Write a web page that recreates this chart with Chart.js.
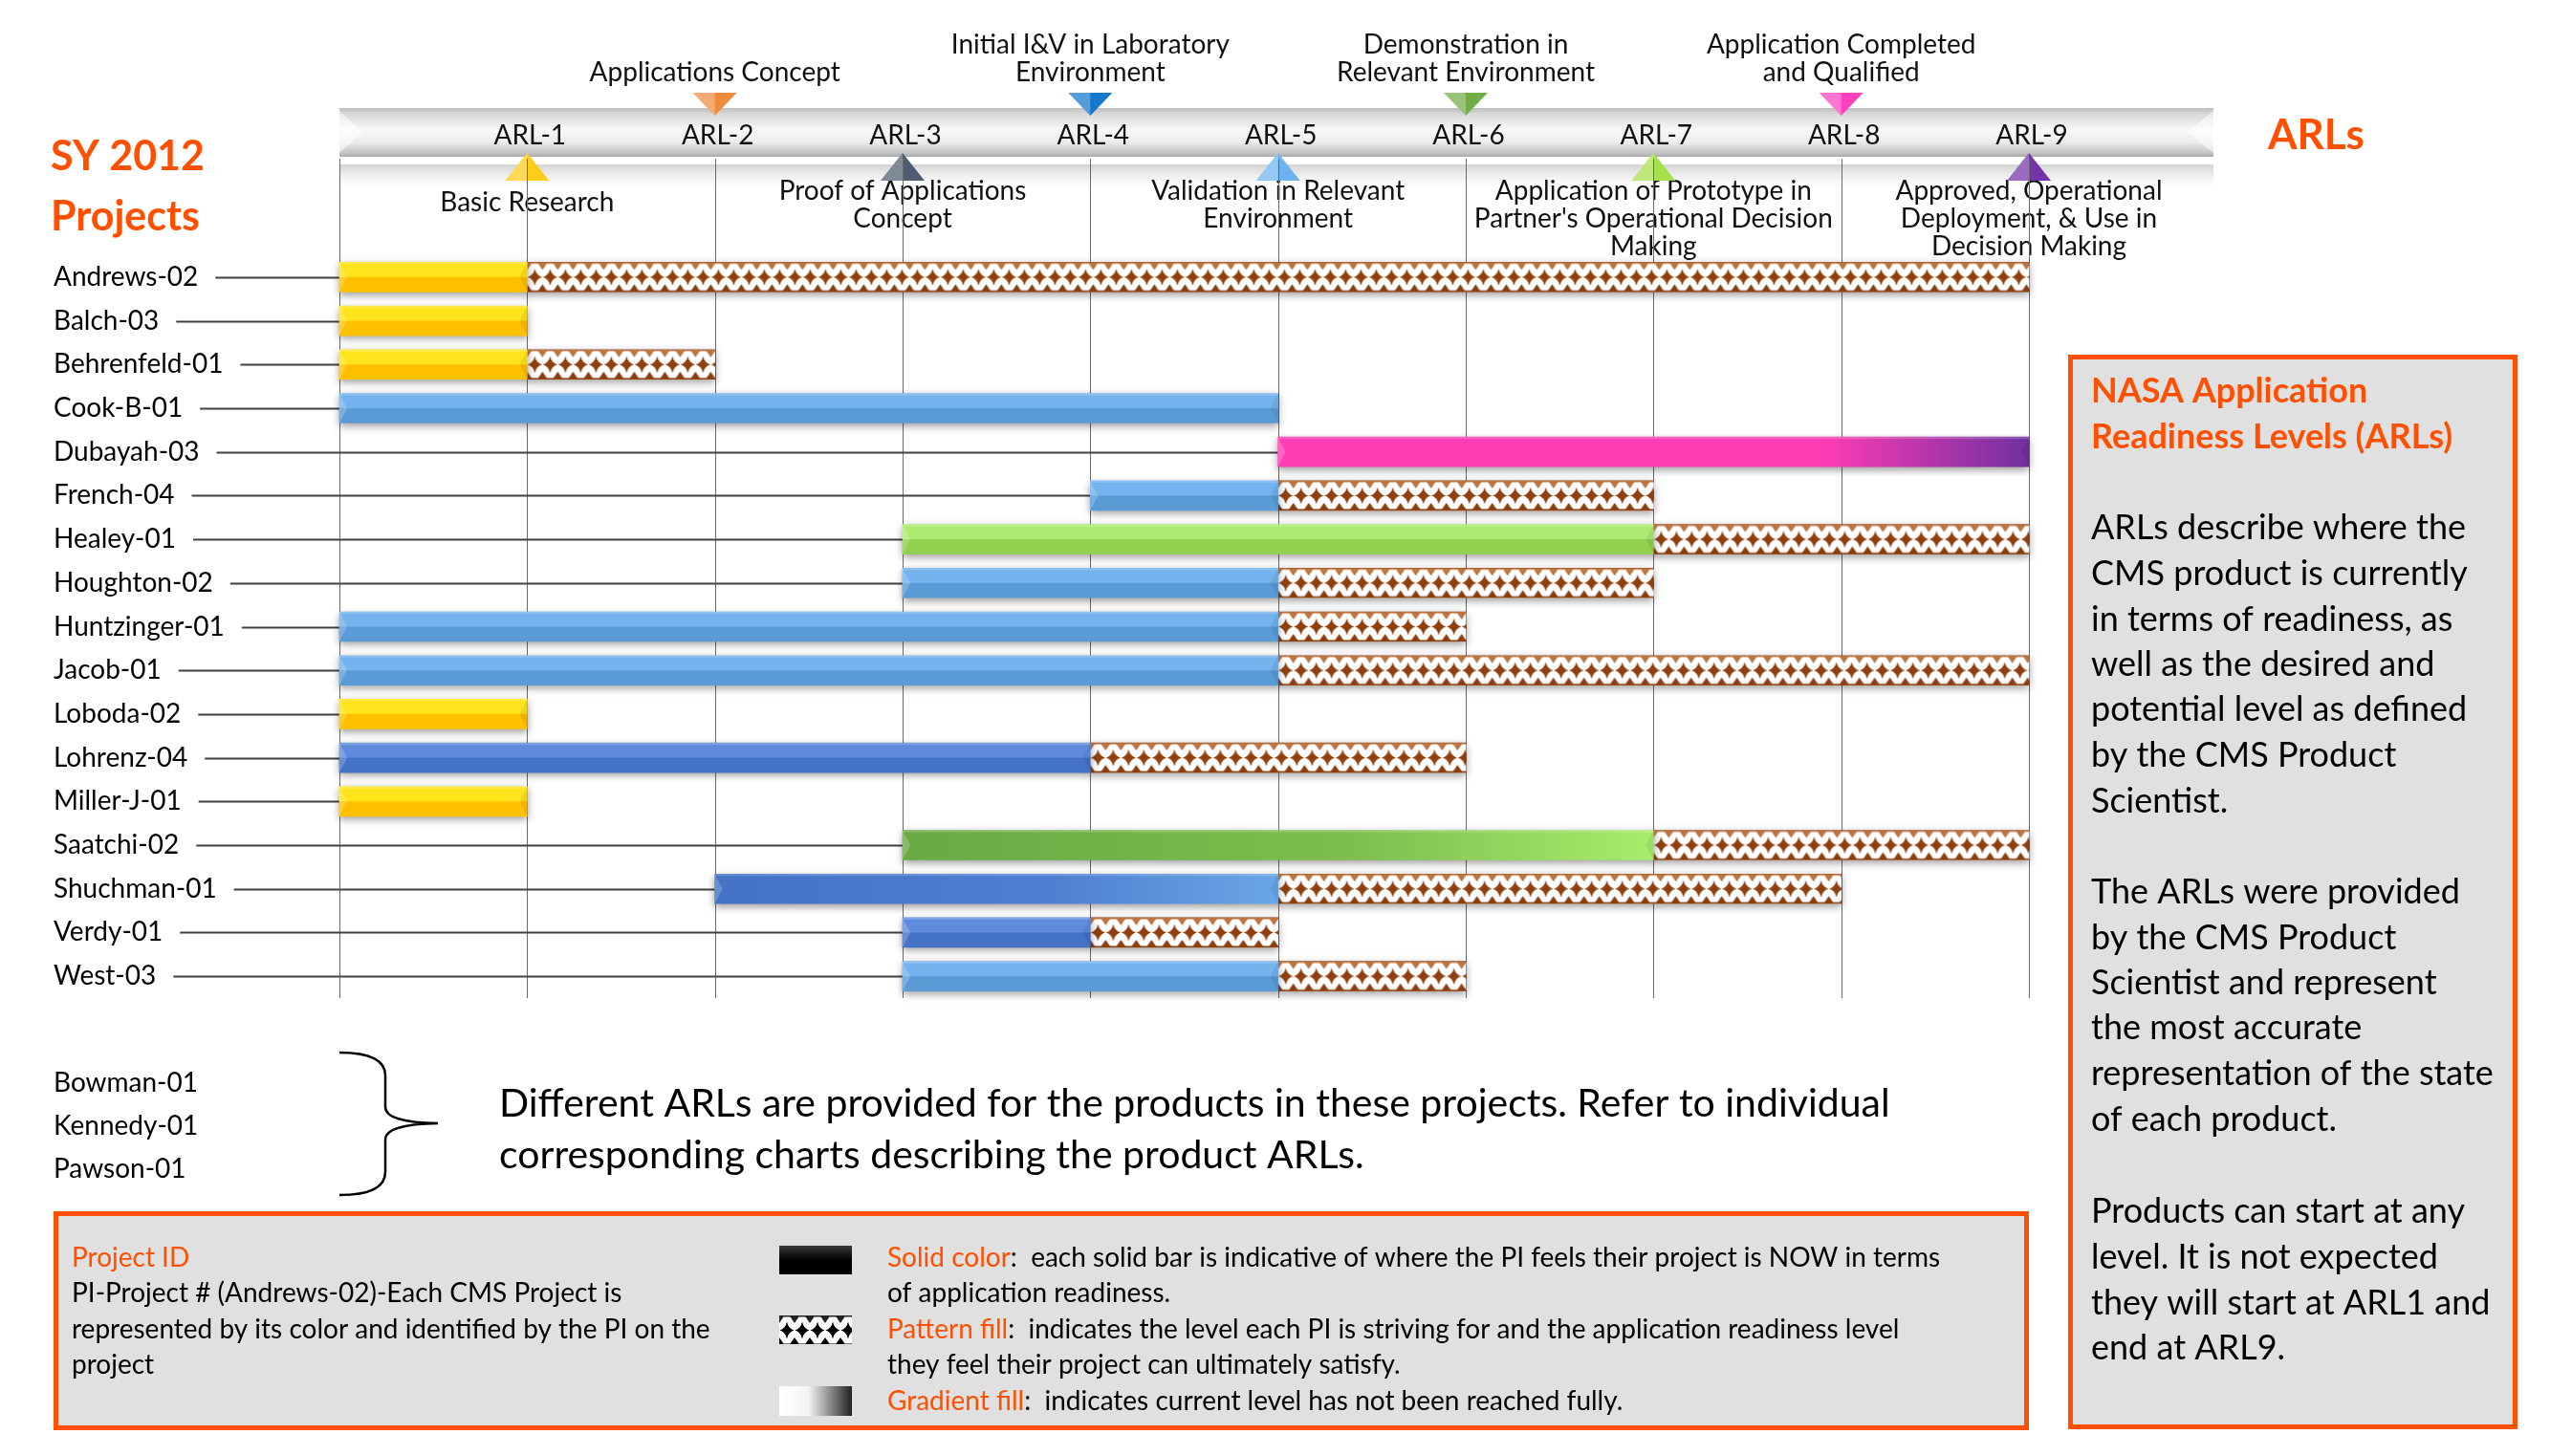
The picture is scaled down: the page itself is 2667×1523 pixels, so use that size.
<!DOCTYPE html>
<html>
<head>
<meta charset="utf-8">
<script src="https://cdn.jsdelivr.net/npm/chart.js@4.4.1/dist/chart.umd.min.js"></script>
<style>
  html, body { margin: 0; background: #fff; }
  canvas { display: block; }
</style>
</head>
<body>
<canvas id="arlChart" width="2667" height="1523"></canvas>
<script>
/* -------------------------------------------------------
   DATA
------------------------------------------------------- */

const projects = [
  "Andrews-02", "Balch-03", "Behrenfeld-01", "Cook-B-01", "Dubayah-03",
  "French-04", "Healey-01", "Houghton-02", "Huntzinger-01", "Jacob-01",
  "Loboda-02", "Lohrenz-04", "Miller-J-01", "Saatchi-02", "Shuchman-01",
  "Verdy-01", "West-03"
];

// where the solid bar starts / ends (current ARL)
const solidStart = [0, 0, 0, 0, 5, 4, 3, 3, 0, 0, 0, 0, 0, 3, 2, 3, 3];
const solidEnd   = [1, 1, 1, 5, 9, 5, 7, 5, 5, 5, 1, 4, 1, 7, 5, 4, 5];
// where the patterned (target) bar ends, null = no target shown
const targetEnd  = [9, null, 2, null, null, 7, 9, 7, 6, 9, null, 6, null, 9, 8, 5, 6];

// colour family of each project bar
const barStyle = [
  "yellow", "yellow", "yellow", "sky", "pinkFade",
  "sky", "lime", "sky", "sky", "sky",
  "yellow", "navy", "yellow", "greenFade", "navyFade",
  "navy", "sky"
];

const arlLevels = [1, 2, 3, 4, 5, 6, 7, 8, 9];
const arlLabels = ["ARL-1", "ARL-2", "ARL-3", "ARL-4", "ARL-5", "ARL-6", "ARL-7", "ARL-8", "ARL-9"];
const arlNotes = [
  ["Basic Research"],
  ["Applications Concept"],
  ["Proof of Applications", "Concept"],
  ["Initial I&V in Laboratory", "Environment"],
  ["Validation in Relevant", "Environment"],
  ["Demonstration in", "Relevant Environment"],
  ["Application of Prototype in", "Partner's Operational Decision", "Making"],
  ["Application Completed", "and Qualified"],
  ["Approved, Operational", "Deployment, & Use in", "Decision Making"]
];
const arlMarkerColors = ["#FFCC1A", "#F08A3C", "#4E5D72", "#1478CC", "#6DB3EE", "#6FAE45", "#A6E04A", "#FF40BE", "#7433A8"];

const otherProjects = ["Bowman-01", "Kennedy-01", "Pawson-01"];

/* -------------------------------------------------------
   STYLE HELPERS
------------------------------------------------------- */

const FONT = 'Lato, "Open Sans", sans-serif';
const ORANGE = "#FF4F00";
const BAR_H = 31;

const palette = {
  yellow:    { top: "#FFE41C", base: "#FFC000" },
  sky:       { top: "#74B3EE", base: "#5B9BD5" },
  navy:      { top: "#5F8BDD", base: "#4472C4" },
  lime:      { top: "#AEEB72", base: "#92D050" },
  pinkFade:  { h: [[0, "#FF3DB4"], [0.72, "#FF3DB4"], [1, "#7030A0"]] },
  greenFade: { h: [[0, "#69A944"], [0.6, "#7DBE4E"], [1, "#A8EC6C"]] },
  navyFade:  { h: [[0, "#4472C4"], [0.6, "#4F7FD0"], [1, "#6AA6E6"]] }
};

function makeDiamondTile(topCol, midCol, botCol) {
  const c = document.createElement("canvas");
  c.width = 16; c.height = BAR_H;
  const g = c.getContext("2d");
  const m = BAR_H / 2;
  g.fillStyle = "#fff";
  g.fillRect(0, 0, 16, BAR_H);
  // middle diamond, slightly concave sides
  g.fillStyle = midCol;
  g.beginPath();
  g.moveTo(8, m - 9);
  g.quadraticCurveTo(9.3, m - 2, 15.6, m);
  g.quadraticCurveTo(9.3, m + 2, 8, m + 9);
  g.quadraticCurveTo(6.7, m + 2, 0.4, m);
  g.quadraticCurveTo(6.7, m - 2, 8, m - 9);
  g.fill();
  // half diamonds along the edges
  [0, 16].forEach(cx => {
    g.fillStyle = topCol;
    g.beginPath();
    g.moveTo(cx - 5.5, 0); g.lineTo(cx + 5.5, 0); g.lineTo(cx, 8);
    g.fill();
    g.fillStyle = botCol;
    g.beginPath();
    g.moveTo(cx - 5.5, BAR_H); g.lineTo(cx + 5.5, BAR_H); g.lineTo(cx, BAR_H - 8);
    g.fill();
  });
  // thin edge tint
  g.fillStyle = topCol;
  g.fillRect(0, 0, 16, 1.5);
  g.fillStyle = botCol;
  g.fillRect(0, BAR_H - 1.5, 16, 1.5);
  return c;
}

const brownTile = makeDiamondTile("#BD7440", "#8F400E", "#8A3F10");
const blackTile = makeDiamondTile("#222", "#000", "#000");

function patternFill(c) {
  const chart = c.chart;
  if (!chart.chartArea) return "#A0522D";
  const i = c.dataIndex;
  const yTop = chart.scales.y.getPixelForValue(i) - BAR_H / 2;
  const x0 = chart.scales.x.getPixelForValue(solidEnd[i]);
  const p = chart.ctx.createPattern(brownTile, "repeat");
  p.setTransform(new DOMMatrix([1, 0, 0, 1, x0, yTop]));
  return p;
}

function solidFill(c) {
  const chart = c.chart;
  const i = c.dataIndex;
  const st = palette[barStyle[i]];
  if (!chart.chartArea) return st.base || st.h[0][1];
  const ctx = chart.ctx;
  if (st.h) {
    const x0 = chart.scales.x.getPixelForValue(solidStart[i]);
    const x1 = chart.scales.x.getPixelForValue(solidEnd[i]);
    const g = ctx.createLinearGradient(x0, 0, x1, 0);
    st.h.forEach(s => g.addColorStop(s[0], s[1]));
    return g;
  }
  const yc = chart.scales.y.getPixelForValue(i);
  const g = ctx.createLinearGradient(0, yc - BAR_H / 2, 0, yc + BAR_H / 2);
  g.addColorStop(0, st.top);
  g.addColorStop(0.48, st.top);
  g.addColorStop(0.52, st.base);
  g.addColorStop(1, st.base);
  return g;
}

function txt(ctx, s, x, y, size, color, opts = {}) {
  ctx.font = (opts.bold ? "bold " : "") + size + "px " + FONT;
  ctx.fillStyle = color;
  ctx.textAlign = opts.align || "left";
  ctx.textBaseline = "middle";
  ctx.fillText(s, x, y);
  return ctx.measureText(s).width;
}

/* -------------------------------------------------------
   DECORATION PLUGIN (header, milestones, boxes, leaders)
------------------------------------------------------- */

const arlDecor = {
  id: "arlDecor",

  beforeDraw(chart) {
    const ctx = chart.ctx;
    const xs = chart.scales.x;
    ctx.save();
    ctx.fillStyle = "#fff";
    ctx.fillRect(0, 0, chart.width, chart.height);

    // glossy header tube
    const hx0 = xs.getPixelForValue(0), hx1 = 2315;
    let g = ctx.createLinearGradient(0, 113, 0, 164);
    g.addColorStop(0, "#BEBEBE");
    g.addColorStop(0.12, "#D8D8D8");
    g.addColorStop(0.45, "#F8F8F8");
    g.addColorStop(0.7, "#ECECEC");
    g.addColorStop(0.92, "#C4C4C4");
    g.addColorStop(1, "#A9A9A9");
    ctx.fillStyle = g;
    ctx.fillRect(hx0, 113, hx1 - hx0, 51);
    ctx.fillStyle = "rgba(255,255,255,0.55)";
    ctx.beginPath();
    ctx.moveTo(hx0, 116); ctx.lineTo(hx0 + 24, 138); ctx.lineTo(hx0, 160); ctx.fill();
    ctx.beginPath();
    ctx.moveTo(hx1, 116); ctx.lineTo(hx1 - 28, 138); ctx.lineTo(hx1, 160); ctx.fill();
    // reflection under the tube
    g = ctx.createLinearGradient(0, 172, 0, 202);
    g.addColorStop(0, "#D2D2D2");
    g.addColorStop(1, "rgba(255,255,255,0)");
    ctx.fillStyle = g;
    ctx.fillRect(hx0, 172, hx1 - hx0, 30);

    // milestone notes and level labels
    arlLevels.forEach((lv, k) => {
      const x = xs.getPixelForValue(lv);
      const down = lv % 2 === 0;
      const lines = arlNotes[k];
      if (down) {
        lines.forEach((s, j) => txt(ctx, s, x, 76 - (lines.length - 1 - j) * 29, 28, "#111", { align: "center" }));
      } else {
        const y0 = lines.length === 1 ? 212 : 200;
        lines.forEach((s, j) => txt(ctx, s, x, y0 + j * 29, 28, "#111", { align: "center" }));
      }
      txt(ctx, arlLabels[k], x + 3, 142, 28, "#111", { align: "center" });

      // marker triangle
      const w = 23;
      const yb = down ? 97 : 189, yt = down ? 121 : 160;
      ctx.fillStyle = arlMarkerColors[k];
      ctx.beginPath();
      ctx.moveTo(x - w, yb); ctx.lineTo(x + w, yb); ctx.lineTo(x, yt); ctx.closePath();
      ctx.fill();
      ctx.fillStyle = "rgba(255,255,255,0.28)";
      ctx.beginPath();
      ctx.moveTo(x - w, yb); ctx.lineTo(x, yb); ctx.lineTo(x, yt); ctx.closePath();
      ctx.fill();
    });

    // side titles
    txt(ctx, "SY 2012", 53, 164, 43, ORANGE, { bold: true });
    txt(ctx, "Projects", 53, 227, 43, ORANGE, { bold: true });
    txt(ctx, "ARLs", 2372, 142, 44, ORANGE, { bold: true });

    // right explanation box
    ctx.fillStyle = "#E0E0E0";
    ctx.fillRect(2163, 371, 470, 1124);
    ctx.strokeStyle = ORANGE;
    ctx.lineWidth = 5;
    ctx.strokeRect(2165.5, 373.5, 465, 1119);
    txt(ctx, "NASA Application", 2187, 409, 36, ORANGE, { bold: true });
    txt(ctx, "Readiness Levels (ARLs)", 2187, 457, 36, ORANGE, { bold: true });
    const side = [
      ["ARLs describe where the", 552], ["CMS product is currently", 600],
      ["in terms of readiness, as", 648], ["well as the desired and", 695],
      ["potential level as defined", 742], ["by the CMS Product", 790], ["Scientist.", 838],
      ["The ARLs were provided", 933], ["by the CMS Product", 981],
      ["Scientist and represent", 1028], ["the most accurate", 1075],
      ["representation of the state", 1123], ["of each product.", 1171],
      ["Products can start at any", 1267], ["level. It is not expected", 1315],
      ["they will start at ARL1 and", 1363], ["end at ARL9.", 1410]
    ];
    side.forEach(([s, y]) => txt(ctx, s, 2187, y, 36, "#000"));

    // projects with their own charts
    otherProjects.forEach((s, j) => txt(ctx, s, 56, 1133 + j * 45, 28, "#000"));
    ctx.strokeStyle = "#000";
    ctx.lineWidth = 2.5;
    ctx.beginPath();
    ctx.moveTo(355, 1101);
    ctx.quadraticCurveTo(403, 1101, 403, 1125);
    ctx.lineTo(403, 1158);
    ctx.quadraticCurveTo(403, 1174, 458, 1175);
    ctx.quadraticCurveTo(403, 1176, 403, 1192);
    ctx.lineTo(403, 1226);
    ctx.quadraticCurveTo(403, 1250, 355, 1250);
    ctx.stroke();
    txt(ctx, "Different ARLs are provided for the products in these projects. Refer to individual", 522, 1155, 41, "#000");
    txt(ctx, "corresponding charts describing the product ARLs.", 522, 1209, 41, "#000");

    // bottom legend box
    ctx.fillStyle = "#E0E0E0";
    ctx.fillRect(56, 1267, 2066, 229);
    ctx.strokeStyle = ORANGE;
    ctx.lineWidth = 5;
    ctx.strokeRect(58.5, 1269.5, 2061, 224);
    txt(ctx, "Project ID", 75, 1316, 28, ORANGE);
    txt(ctx, "PI-Project # (Andrews-02)-Each CMS Project is", 75, 1353, 28, "#000");
    txt(ctx, "represented by its color and identified by the PI on the", 75, 1391, 28, "#000");
    txt(ctx, "project", 75, 1428, 28, "#000");

    // legend swatches
    g = ctx.createLinearGradient(0, 1303, 0, 1333);
    g.addColorStop(0, "#3A3A3A"); g.addColorStop(0.5, "#000"); g.addColorStop(1, "#000");
    ctx.fillStyle = g;
    ctx.fillRect(815, 1303, 76, 30);
    const bp = ctx.createPattern(blackTile, "repeat");
    bp.setTransform(new DOMMatrix([1, 0, 0, 1, 815, 1376]));
    ctx.fillStyle = bp;
    ctx.fillRect(815, 1376, 76, 30);
    g = ctx.createLinearGradient(815, 0, 891, 0);
    g.addColorStop(0, "#FFF"); g.addColorStop(0.4, "#F4F4F4"); g.addColorStop(1, "#222");
    ctx.fillStyle = g;
    ctx.fillRect(815, 1450, 76, 31);

    let w = txt(ctx, "Solid color", 928, 1316, 28, ORANGE);
    txt(ctx, ":  each solid bar is indicative of where the PI feels their project is NOW in terms", 928 + w, 1316, 28, "#000");
    txt(ctx, "of application readiness.", 928, 1353, 28, "#000");
    w = txt(ctx, "Pattern fill", 928, 1391, 28, ORANGE);
    txt(ctx, ":  indicates the level each PI is striving for and the application readiness level", 928 + w, 1391, 28, "#000");
    txt(ctx, "they feel their project can ultimately satisfy.", 928, 1428, 28, "#000");
    w = txt(ctx, "Gradient fill", 928, 1466, 28, ORANGE);
    txt(ctx, ":  indicates current level has not been reached fully.", 928 + w, 1466, 28, "#000");
    ctx.restore();
  },

  beforeDatasetsDraw(chart) {
    const ctx = chart.ctx;
    const xs = chart.scales.x, ys = chart.scales.y;
    const area = chart.chartArea;
    ctx.save();
    // ARL grid lines
    ctx.strokeStyle = "#6A6A6A";
    ctx.lineWidth = 1;
    [0].concat(arlLevels).forEach(lv => {
      const x = Math.round(xs.getPixelForValue(lv)) + 0.5;
      ctx.beginPath();
      ctx.moveTo(x, 166);
      ctx.lineTo(x, area.bottom);
      ctx.stroke();
    });
    // leader lines from project names to their bars
    ctx.font = "28px " + FONT;
    ctx.strokeStyle = "#404040";
    ctx.lineWidth = 2;
    projects.forEach((p, i) => {
      const y = Math.round(ys.getPixelForValue(i)) + 0.5;
      const x0 = 56 + ctx.measureText(p).width + 18;
      ctx.beginPath();
      ctx.moveTo(x0, y);
      ctx.lineTo(xs.getPixelForValue(solidStart[i]), y);
      ctx.stroke();
    });
    ctx.restore();

    // soft drop shadow for the bars
    ctx.save();
    ctx.shadowColor = "rgba(0,0,0,0.38)";
    ctx.shadowBlur = 8;
    ctx.shadowOffsetY = 3;
  },

  afterDatasetsDraw(chart) {
    const ctx = chart.ctx;
    ctx.restore();
    // bevel on solid bar ends
    const meta = chart.getDatasetMeta(1);
    ctx.save();
    meta.data.forEach(bar => {
      const { x, y, base, height } = bar.getProps(["x", "y", "base", "height"], true);
      const l = Math.min(x, base), r = Math.max(x, base), t = y - height / 2;
      ctx.fillStyle = "rgba(255,255,255,0.2)";
      ctx.fillRect(l, t, r - l, 2);
      ctx.beginPath();
      ctx.moveTo(l, t); ctx.lineTo(l + 8, t + height / 2); ctx.lineTo(l, t + height); ctx.fill();
      ctx.fillStyle = "rgba(0,0,0,0.07)";
      ctx.beginPath();
      ctx.moveTo(r, t); ctx.lineTo(r - 8, t + height / 2); ctx.lineTo(r, t + height); ctx.fill();
    });
    ctx.restore();
  }
};

/* -------------------------------------------------------
   CHART
------------------------------------------------------- */

const ctx = document.getElementById("arlChart").getContext("2d");

new Chart(ctx, {
  type: "bar",
  data: {
    labels: projects,
    datasets: [
      {
        label: "Target ARL",
        data: projects.map((p, i) => targetEnd[i] === null ? null : [solidEnd[i], targetEnd[i]]),
        backgroundColor: patternFill,
        barThickness: BAR_H,
        clip: false,
        order: 2
      },
      {
        label: "Current ARL",
        data: projects.map((p, i) => [solidStart[i], solidEnd[i]]),
        backgroundColor: solidFill,
        barThickness: BAR_H,
        clip: false,
        order: 1
      }
    ]
  },
  plugins: [arlDecor],
  options: {
    indexAxis: "y",
    responsive: false,
    animation: false,
    layout: { padding: { left: 56, right: 545, top: 267, bottom: 479 } },
    plugins: {
      legend: { display: false },
      tooltip: { enabled: false }
    },
    scales: {
      x: { type: "linear", min: 0, max: 9, display: false, stacked: false },
      y: {
        type: "category",
        offset: true,
        stacked: true,
        grid: { display: false },
        border: { display: false },
        ticks: {
          crossAlign: "far",
          padding: 0,
          color: "#000",
          font: { family: FONT, size: 28 }
        },
        afterFit(scale) { scale.width = 299; }
      }
    }
  }
});
</script>
</body>
</html>
